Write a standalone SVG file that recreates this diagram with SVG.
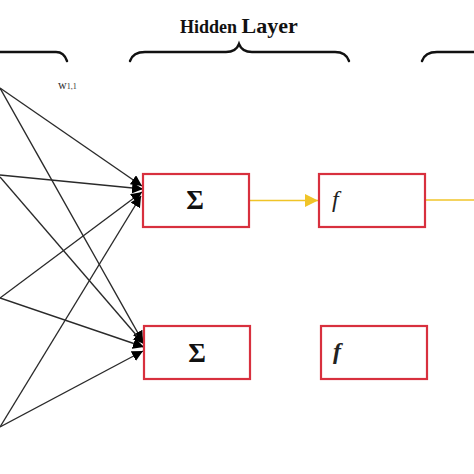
<svg xmlns="http://www.w3.org/2000/svg" width="474" height="474" viewBox="0 0 474 474">
<defs>
<style>
.w{stroke:#2a2a2a;stroke-width:1.4;fill:none}
.box{fill:#fff;stroke:#d8303e;stroke-width:2.2}
.br{stroke:#111;stroke-width:2.4;fill:none;stroke-linecap:round}
.y{stroke:#f0c428;stroke-width:1.6;fill:none}
.sig{font-family:"Liberation Serif",serif;font-weight:bold;font-size:27px;fill:#111;text-anchor:middle}
.f{font-family:"Liberation Serif",serif;font-style:italic;font-size:24px;fill:#222}
</style>
<marker id="ab" markerUnits="userSpaceOnUse" markerWidth="12" markerHeight="12" refX="11" refY="5.5" orient="auto"><path d="M0,0 L11,5.5 L0,11 z" fill="#000"/></marker>
<marker id="ay" markerUnits="userSpaceOnUse" markerWidth="14" markerHeight="13" refX="13" refY="6.5" orient="auto"><path d="M0,0 L13,6.5 L0,13 z" fill="#f0c428"/></marker>
</defs>
<rect width="474" height="474" fill="#fff"/>
<g id="title">
<text x="180" y="33" font-family="Liberation Serif,serif" font-weight="bold" fill="#111"><tspan font-size="18">Hidden </tspan><tspan font-size="22">Layer</tspan></text>
</g>
<g id="braces">
<path class="br" d="M0,52 L56,52 Q64,52 67,61"/>
<path class="br" d="M130,61 Q133,52 145,52 L226,52 Q236,52 239,44 Q242,52 252,52 L335,52 Q346,52 349,61"/>
<path class="br" d="M422,61 Q425,52 437,52 L474,52"/>
</g>
<g id="weight-label">
<text x="58" y="89" font-family="Liberation Serif,serif" fill="#333"><tspan font-size="12">w</tspan><tspan font-size="8">1,1</tspan></text>
</g>
<g id="connectors">
<line class="w" x1="0" y1="88" x2="142" y2="186" marker-end="url(#ab)"/>
<line class="w" x1="0" y1="175" x2="143" y2="189" marker-end="url(#ab)"/>
<line class="w" x1="0" y1="298" x2="142" y2="192" marker-end="url(#ab)"/>
<line class="w" x1="0" y1="427" x2="141" y2="196" marker-end="url(#ab)"/>
<line class="w" x1="0" y1="88" x2="143" y2="342" marker-end="url(#ab)"/>
<line class="w" x1="0" y1="177" x2="144" y2="344" marker-end="url(#ab)"/>
<line class="w" x1="0" y1="298" x2="144" y2="347" marker-end="url(#ab)"/>
<line class="w" x1="0" y1="427" x2="143" y2="351" marker-end="url(#ab)"/>
<line class="y" x1="250" y1="200.5" x2="318" y2="200.5" marker-end="url(#ay)"/>
<line class="y" x1="426" y1="200" x2="474" y2="200"/>
</g>
<g id="sum1"><rect class="box" x="143" y="174" width="106" height="53"/><text class="sig" x="195" y="209">Σ</text></g>
<g id="f1"><rect class="box" x="319" y="174" width="106" height="53"/><text class="f" x="332" y="207">f</text></g>
<g id="sum2"><rect class="box" x="144" y="326" width="106" height="53"/><text class="sig" x="197" y="362">Σ</text></g>
<g id="f2"><rect class="box" x="321" y="326" width="106" height="53"/><text class="f" x="333" y="359" font-weight="bold">f</text></g>
</svg>
